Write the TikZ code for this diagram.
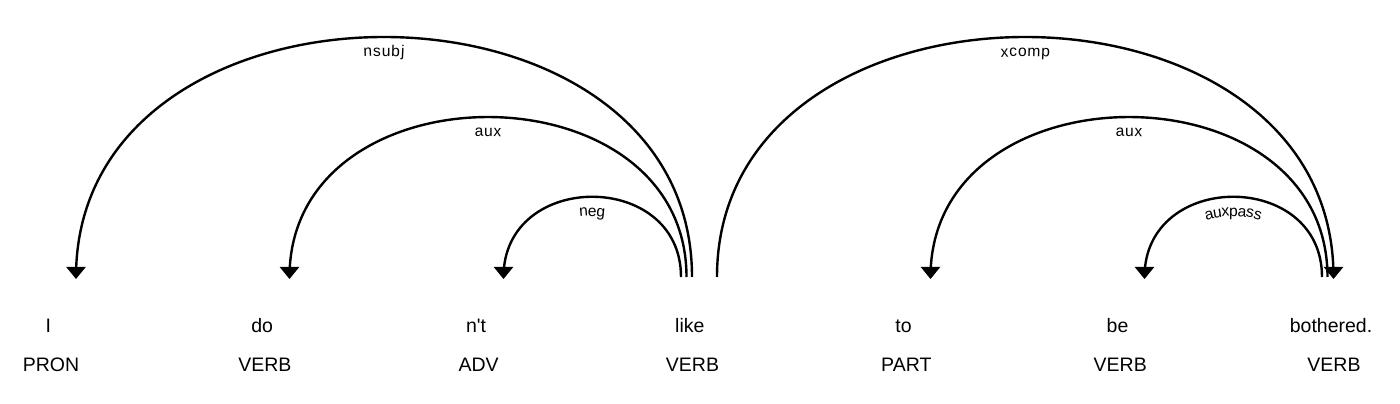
\documentclass[tikz,border=0pt]{standalone}
\usepackage{fontspec}
\setmainfont{Liberation Sans}[Ligatures=TeXOff]
\newfontfamily\lblfont{Liberation Sans}[Ligatures=TeXOff]
\usetikzlibrary{decorations.text}
\newcommand\ls{\kern1.2pt}
\begin{document}
\begin{tikzpicture}[x=1pt,y=1pt,
  word/.style={anchor=base, inner sep=0pt, font=\fontsize{19.5}{23}\selectfont},
  arcline/.style={line width=2.4pt},
  lbl/.style={postaction={decorate, decoration={text along path, text align=center, raise=-19.5pt,
      text={|\lblfont\fontsize{15.6}{18}\selectfont|#1}}}},
  head/.style={fill=black, draw=none},
]
\useasboundingbox (0,0) rectangle (1400,404);
% words and tags
\node[word] (w1) at (48.3,71.3) {I};
\node[word] (t1) at (51,32.3) {PRON};
\node[word] (w2) at (262.2,71.3) {do};
\node[word] (t2) at (264.8,32.3) {VERB};
\node[word] (w3) at (476,71.3) {n't};
\node[word] (t3) at (478.7,32.3) {ADV};
\node[word] (w4) at (689.8,71.3) {like};
\node[word] (t4) at (692.5,32.3) {VERB};
\node[word] (w5) at (903.6,71.3) {to};
\node[word] (t5) at (906.3,32.3) {PART};
\node[word] (w6) at (1117.5,71.3) {be};
\node[word] (t6) at (1120.2,32.3) {VERB};
\node[word] (w7) at (1331,71.3) {bothered.};
\node[word] (t7) at (1334,32.3) {VERB};
% arc end points
\coordinate (nsubjL) at (76,127);   \coordinate (nsubjR) at (692,127);
\coordinate (auxL) at (289.5,127);  \coordinate (auxR) at (686.5,127);
\coordinate (negL) at (503.5,127);  \coordinate (negR) at (681,127);
\coordinate (xcompL) at (717,127);  \coordinate (xcompR) at (1333.5,127);
\coordinate (auxbL) at (930.5,127); \coordinate (auxbR) at (1327.5,127);
\coordinate (apL) at (1144.5,127);  \coordinate (apR) at (1322,127);
% arcs
\draw[arcline, lbl={{n\ls}{s\ls}{u\ls}{b\ls}j}] (nsubjL) .. controls +(0,320) and +(0,320) .. (nsubjR);
\draw[arcline, lbl={{a\ls}{u\ls}x}] (auxL) .. controls +(0,213.3) and +(0,213.3) .. (auxR);
\draw[arcline, lbl={{n\ls}{e\ls}g}] (negL) .. controls +(0,107) and +(0,107) .. (negR);
\draw[arcline, lbl={{x\ls}{c\ls}{o\ls}{m\ls}p}] (xcompL) .. controls +(0,320) and +(0,320) .. (xcompR);
\draw[arcline, lbl={{a\ls}{u\ls}x}] (auxbL) .. controls +(0,213.3) and +(0,213.3) .. (auxbR);
\draw[arcline, lbl={{a\ls}{u\ls}{x\ls}{p\ls}{a\ls}{s\ls}s}] (apL) .. controls +(0,107) and +(0,107) .. (apR);
% arrowheads
\foreach \c in {nsubjL,auxL,negL,xcompR,auxbL,apL}{
  \fill[head] (\c) ++(0,-2) -- ++(-9.8,12) -- ++(19.6,0) -- cycle;
}
\end{tikzpicture}
\end{document}
